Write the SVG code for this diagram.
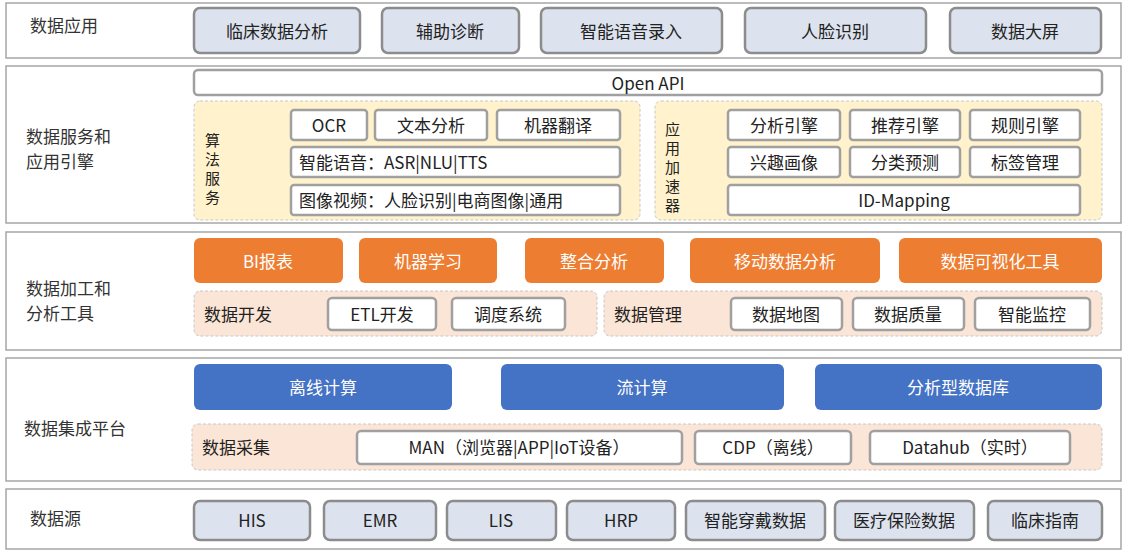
<svg xmlns="http://www.w3.org/2000/svg" width="1127" height="554" viewBox="0 0 1127 554">
<style>
text{font-family:"Noto Sans CJK SC","Noto Sans",sans-serif;font-size:17px;fill:#222;dominant-baseline:central}
.c{text-anchor:middle}
.v{font-size:15px}
.layer{fill:#fff;stroke:#a6a6a6;stroke-width:1.5}
.lbl{font-size:17px;fill:#333}
.app{fill:#dde3ee;stroke:#8c8c8c;stroke-width:2.5}
.w{fill:#fff;stroke:#a0a0a0;stroke-width:2.5}
.yel{fill:#fff2cc;stroke:#c8c8c8;stroke-dasharray:3 2}
.pink{fill:#fbe5d6;stroke:#c8c8c8;stroke-dasharray:3 2}
.or{fill:#ed7d31}
.bl{fill:#4472c4}
.wt{fill:#fff}
</style>
<g id="layers">
<rect class="layer" x="6" y="3" width="1115" height="55"/>
<rect class="layer" x="6" y="66" width="1115" height="157"/>
<rect class="layer" x="6" y="232" width="1115" height="118"/>
<rect class="layer" x="6" y="358" width="1115" height="123"/>
<rect class="layer" x="6" y="489" width="1115" height="60"/>
<text class="lbl" x="30" y="24">数据应用</text>
<text class="lbl" x="26" y="135">数据服务和</text>
<text class="lbl" x="26" y="160">应用引擎</text>
<text class="lbl" x="26" y="287">数据加工和</text>
<text class="lbl" x="26" y="312">分析工具</text>
<text class="lbl" x="24" y="427">数据集成平台</text>
<text class="lbl" x="30" y="517">数据源</text>
</g>
<g id="apps">
<rect class="app" x="194" y="8" width="166" height="45" rx="6"/><text class="c" x="277" y="30">临床数据分析</text>
<rect class="app" x="382" y="8" width="137" height="45" rx="6"/><text class="c" x="450" y="30">辅助诊断</text>
<rect class="app" x="541" y="8" width="181" height="45" rx="6"/><text class="c" x="631" y="30">智能语音录入</text>
<rect class="app" x="745" y="8" width="181" height="45" rx="6"/><text class="c" x="835" y="30">人脸识别</text>
<rect class="app" x="950" y="8" width="151" height="45" rx="6"/><text class="c" x="1025" y="30">数据大屏</text>
</g>
<g id="services">
<rect class="w" x="194" y="70" width="908" height="25" rx="4"/><text class="c" x="648" y="82">Open API</text>
<rect class="yel" x="194" y="101" width="446" height="119" rx="6"/>
<text class="v" x="205" y="139">算</text><text class="v" x="205" y="158">法</text><text class="v" x="205" y="177">服</text><text class="v" x="205" y="196">务</text>
<rect class="w" x="291" y="110" width="76" height="30" rx="3"/><text class="c" x="329" y="124">OCR</text>
<rect class="w" x="375" y="110" width="112" height="30" rx="3"/><text class="c" x="431" y="124">文本分析</text>
<rect class="w" x="497" y="110" width="123" height="30" rx="3"/><text class="c" x="558" y="124">机器翻译</text>
<rect class="w" x="291" y="147" width="329" height="30" rx="3"/><text x="299" y="161">智能语音：ASR|NLU|TTS</text>
<rect class="w" x="291" y="185" width="329" height="30" rx="3"/><text x="299" y="199">图像视频：人脸识别|电商图像|通用</text>
<rect class="yel" x="655" y="101" width="447" height="119" rx="6"/>
<text class="v" x="665" y="128">应</text><text class="v" x="665" y="147">用</text><text class="v" x="665" y="166">加</text><text class="v" x="665" y="185">速</text><text class="v" x="665" y="204">器</text>
<rect class="w" x="728" y="110" width="112" height="30" rx="3"/><text class="c" x="784" y="124">分析引擎</text>
<rect class="w" x="850" y="110" width="110" height="30" rx="3"/><text class="c" x="905" y="124">推荐引擎</text>
<rect class="w" x="970" y="110" width="110" height="30" rx="3"/><text class="c" x="1025" y="124">规则引擎</text>
<rect class="w" x="728" y="147" width="112" height="30" rx="3"/><text class="c" x="784" y="161">兴趣画像</text>
<rect class="w" x="850" y="147" width="110" height="30" rx="3"/><text class="c" x="905" y="161">分类预测</text>
<rect class="w" x="970" y="147" width="110" height="30" rx="3"/><text class="c" x="1025" y="161">标签管理</text>
<rect class="w" x="728" y="185" width="352" height="30" rx="3"/><text class="c" x="904" y="199">ID-Mapping</text>
</g>
<g id="processing">
<rect class="or" x="194" y="238" width="149" height="45" rx="6"/><text class="c wt" x="268" y="260">BI报表</text>
<rect class="or" x="359" y="238" width="138" height="45" rx="6"/><text class="c wt" x="428" y="260">机器学习</text>
<rect class="or" x="525" y="238" width="139" height="45" rx="6"/><text class="c wt" x="594" y="260">整合分析</text>
<rect class="or" x="690" y="238" width="190" height="45" rx="6"/><text class="c wt" x="785" y="260">移动数据分析</text>
<rect class="or" x="899" y="238" width="203" height="45" rx="6"/><text class="c wt" x="1000" y="260">数据可视化工具</text>
<rect class="pink" x="194" y="291" width="403" height="45" rx="6"/><text x="204" y="313">数据开发</text>
<rect class="w" x="328" y="298" width="108" height="32" rx="4"/><text class="c" x="382" y="313">ETL开发</text>
<rect class="w" x="452" y="298" width="113" height="32" rx="4"/><text class="c" x="508" y="313">调度系统</text>
<rect class="pink" x="604" y="291" width="498" height="45" rx="6"/><text x="614" y="313">数据管理</text>
<rect class="w" x="731" y="298" width="111" height="32" rx="4"/><text class="c" x="786" y="313">数据地图</text>
<rect class="w" x="853" y="298" width="111" height="32" rx="4"/><text class="c" x="908" y="313">数据质量</text>
<rect class="w" x="975" y="298" width="115" height="32" rx="4"/><text class="c" x="1032" y="313">智能监控</text>
</g>
<g id="integration">
<rect class="bl" x="194" y="364" width="258" height="46" rx="6"/><text class="c wt" x="323" y="386">离线计算</text>
<rect class="bl" x="501" y="364" width="283" height="46" rx="6"/><text class="c wt" x="642" y="386">流计算</text>
<rect class="bl" x="815" y="364" width="287" height="46" rx="6"/><text class="c wt" x="958" y="386">分析型数据库</text>
<rect class="pink" x="192" y="424" width="910" height="46" rx="6"/><text x="202" y="446">数据采集</text>
<rect class="w" x="357" y="431" width="325" height="33" rx="4"/><text class="c" x="519" y="446">MAN（浏览器|APP|IoT设备）</text>
<rect class="w" x="695" y="431" width="156" height="33" rx="4"/><text class="c" x="773" y="446">CDP（离线）</text>
<rect class="w" x="870" y="431" width="200" height="33" rx="4"/><text class="c" x="970" y="446">Datahub（实时）</text>
</g>
<g id="sources">
<rect class="app" x="194" y="501" width="116" height="39" rx="6"/><text class="c" x="252" y="519">HIS</text>
<rect class="app" x="324" y="501" width="112" height="39" rx="6"/><text class="c" x="380" y="519">EMR</text>
<rect class="app" x="447" y="501" width="109" height="39" rx="6"/><text class="c" x="501" y="519">LIS</text>
<rect class="app" x="567" y="501" width="108" height="39" rx="6"/><text class="c" x="621" y="519">HRP</text>
<rect class="app" x="686" y="501" width="139" height="39" rx="6"/><text class="c" x="755" y="519">智能穿戴数据</text>
<rect class="app" x="835" y="501" width="139" height="39" rx="6"/><text class="c" x="904" y="519">医疗保险数据</text>
<rect class="app" x="988" y="501" width="114" height="39" rx="6"/><text class="c" x="1045" y="519">临床指南</text>
</g>
<g id="connectors"/>
</svg>
